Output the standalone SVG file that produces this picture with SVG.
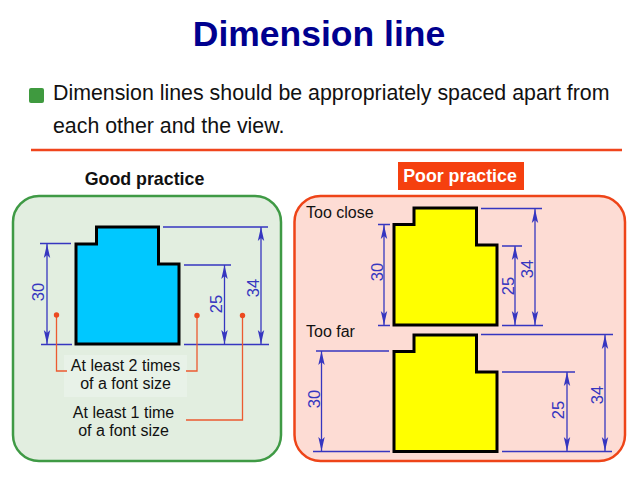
<svg xmlns="http://www.w3.org/2000/svg" width="638" height="478" viewBox="0 0 638 478">
<style>
text{font-family:"Liberation Sans",Arial,sans-serif}
.t{font-size:16px;fill:#111;text-anchor:middle}
.s{font-size:16px;fill:#111}
.n{font-size:16.5px;fill:#3636c0;text-anchor:middle}
.b{font-size:21.35px;fill:#111}
.e{stroke:#3636c0;stroke-width:1.3;fill:none}
.d{stroke:#3636c0;stroke-width:1.3;fill:none;marker-start:url(#a);marker-end:url(#a)}
.r{stroke:#ec5a30;stroke-width:1.3;fill:none}
.o{stroke:#000;stroke-width:3;stroke-linejoin:miter}
</style>
<defs>
<marker id="a" viewBox="0 0 14 8" refX="14" refY="4" markerWidth="14" markerHeight="8" markerUnits="userSpaceOnUse" orient="auto-start-reverse">
<path d="M14 4L0 0.8L3 4L0 7.2Z" fill="#3636c0"/>
</marker>
</defs>
<rect width="638" height="478" fill="#fff"/>
<text id="title" x="319" y="46" text-anchor="middle" font-size="35.500" font-weight="bold" fill="#00008f">Dimension line</text>
<g id="bullet">
<rect x="29" y="88" width="15" height="15" rx="2" fill="#3f9a3f"/>
<text class="b" x="53" y="100">Dimension lines should be appropriately spaced apart from</text>
<text class="b" x="53" y="133">each other and the view.</text>
</g>
<line x1="31" y1="150" x2="622" y2="150" stroke="#f0451c" stroke-width="2.5"/>
<text id="good-label" x="144.500" y="185" text-anchor="middle" font-size="17.800" font-weight="bold" fill="#111">Good practice</text>
<g id="poor-label">
<rect x="398" y="162" width="126" height="28" fill="#f5400f"/>
<text x="460" y="182" text-anchor="middle" font-size="17.800" font-weight="bold" fill="#fff">Poor practice</text>
</g>
<g id="good-panel">
<rect x="13" y="196" width="268" height="265" rx="26" fill="#e2eee0" stroke="#3f9a45" stroke-width="2.5"/>
<rect x="64" y="355" width="123" height="42" fill="#e8f2e8"/>
<path id="blue-view" class="o" fill="#00c8ff" d="M76 244H96.500V227H158.500V264H179V344H76Z"/>
</g>
<g id="poor-panel">
<rect x="294.500" y="196" width="330.500" height="265" rx="26" fill="#fddcd4" stroke="#ee4418" stroke-width="2.5"/>
<path id="yellow-close" class="o" fill="#ff0" d="M394 224.500H414V208H476.500V245H497V325H394Z"/>
<path id="yellow-far" class="o" fill="#ff0" d="M394 351.500H414V335H476.500V372H497V451.500H394Z"/>
</g>
<g id="connectors">
<path class="e" d="M40 243.500H71M41 344.500H72M184 265H231M184 344.500H269M163 227H268"/>
<path class="d" d="M47 244V344"/>
<path class="d" d="M224.500 265V344"/>
<path class="d" d="M261 227V344"/>
<path class="r" d="M56.500 315V371H67M197 315.500V371H186M242.500 315.500V420H186"/>
<circle cx="56.500" cy="315" r="2.700" fill="#ec4a20"/>
<circle cx="197" cy="315.500" r="2.700" fill="#ec4a20"/>
<circle cx="242.500" cy="315.500" r="2.700" fill="#ec4a20"/>
<path class="e" d="M378 224.500H390M378 325.500H390M502 246H522M502 325.500H543M481 208.500H542"/>
<path class="d" d="M384 225V325"/>
<path class="d" d="M515 246V325"/>
<path class="d" d="M535 209V325"/>
<path class="e" d="M316 351H389M313 451.500H390M502 372H575M502 451.500H612M481 334.500H613"/>
<path class="d" d="M321.500 351V451"/>
<path class="d" d="M567 372V451"/>
<path class="d" d="M605 335V451"/>
</g>
<g id="labels">
<text class="n" transform="translate(44 292) rotate(-90)">30</text>
<text class="n" transform="translate(222 304) rotate(-90)">25</text>
<text class="n" transform="translate(259 288) rotate(-90)">34</text>
<text class="n" transform="translate(383 272) rotate(-90)">30</text>
<text class="n" transform="translate(514 286) rotate(-90)">25</text>
<text class="n" transform="translate(533 269) rotate(-90)">34</text>
<text class="n" transform="translate(320 399) rotate(-90)">30</text>
<text class="n" transform="translate(564 410) rotate(-90)">25</text>
<text class="n" transform="translate(603 395) rotate(-90)">34</text>
<text class="t" x="125.500" y="371">At least 2 times</text>
<text class="t" x="125.500" y="389">of a font size</text>
<text class="t" x="123.500" y="418">At least 1 time</text>
<text class="t" x="123.500" y="436">of a font size</text>
<text class="s" x="306" y="218">Too close</text>
<text class="s" x="306" y="337">Too far</text>
</g>
</svg>
